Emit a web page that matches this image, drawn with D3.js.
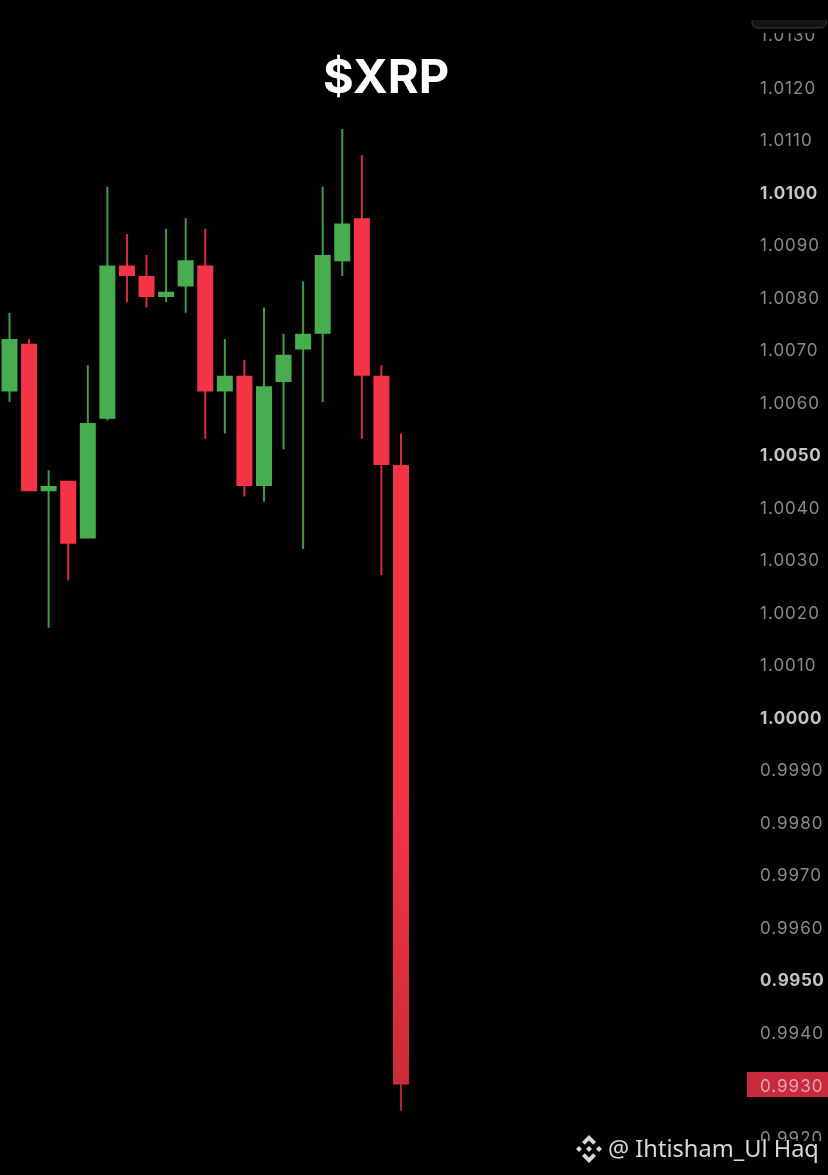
<!DOCTYPE html>
<html><head><meta charset="utf-8">
<script src="https://cdn.jsdelivr.net/npm/d3@7"></script>
<style>html,body{margin:0;padding:0;background:#000}svg{display:block;filter:blur(0.5px)}</style>
</head><body><svg id="c" width="828" height="1175"></svg>
<script>
const opens  = [1.0062,1.00711,1.0043,1.0045,1.0034,1.00568,1.0086,1.0084,1.0080,1.0082,1.0086,1.0062,1.0065,1.0044,1.00638,1.0070,1.0073,1.00868,1.0095,1.0065,1.0048];
const closes = [1.0072,1.0043,1.0044,1.0033,1.0056,1.0086,1.0084,1.0080,1.0081,1.0087,1.0062,1.0065,1.0044,1.0063,1.0069,1.0073,1.0088,1.0094,1.0065,1.0048,0.9930];
const highs  = [1.0077,1.0072,1.0047,1.0045,1.0067,1.0101,1.0092,1.0088,1.0093,1.0095,1.0093,1.0072,1.0068,1.0078,1.0073,1.0083,1.0101,1.0112,1.0107,1.0067,1.0054];
const lows   = [1.0060,1.0043,1.0017,1.0026,1.0034,1.00565,1.0079,1.0078,1.0079,1.0077,1.0053,1.0054,1.0042,1.0041,1.0051,1.0032,1.0060,1.0084,1.0053,1.0027,0.9925];
const tickVals = [1.0130,1.0120,1.0110,1.0100,1.0090,1.0080,1.0070,1.0060,1.0050,1.0040,1.0030,1.0020,1.0010,1.0000,0.9990,0.9980,0.9970,0.9960,0.9950,0.9940,0.9920];
const boldTicks = ["1.0100","1.0050","1.0000","0.9950"];
const lastPrice = 0.9930;
const titleText = "$XRP";
const creditText = "@ Ihtisham_Ul Haq";

const svg = d3.select("#c");
const y = d3.scaleLinear().domain([1,1.01]).range([717,192]);
const x = d3.scaleLinear().domain([0,20]).range([9.5,401]);
const UP="#47AD4F", DOWN="#F43447";
const font="Inter, 'Noto Sans', sans-serif";

const defs=svg.append("defs");
defs.append("clipPath").attr("id","axclip").append("rect").attr("x",700).attr("y",33).attr("width",128).attr("height",1108);
const lg=defs.append("linearGradient").attr("id","fade").attr("x1",0).attr("x2",0).attr("y1",0).attr("y2",1);
lg.append("stop").attr("offset",0).attr("stop-color","#000").attr("stop-opacity",0);
lg.append("stop").attr("offset",1).attr("stop-color","#000").attr("stop-opacity",0.22);

const data=opens.map((o,i)=>({i,o,c:closes[i],h:highs[i],l:lows[i]}));
const g=svg.append("g");
g.selectAll("line.w").data(data).join("line").attr("class","w")
 .attr("x1",d=>x(d.i)).attr("x2",d=>x(d.i))
 .attr("y1",d=>y(d.h)).attr("y2",d=>y(d.l))
 .attr("stroke",d=>d.c>=d.o?"#3F9A49":"#D92B40").attr("stroke-width",2);
g.selectAll("rect.b").data(data).join("rect").attr("class","b")
 .attr("x",d=>x(d.i)-8).attr("width",16)
 .attr("y",d=>y(Math.max(d.o,d.c)))
 .attr("height",d=>Math.abs(y(d.o)-y(d.c)))
 .attr("fill",d=>d.c>=d.o?UP:DOWN);
// dimming toward the bottom of the picture
svg.append("rect").attr("x",0).attr("y",780).attr("width",828).attr("height",395).attr("fill","url(#fade)");

const ax=d3.axisRight(y).tickValues(tickVals).tickSize(0).tickPadding(0).tickFormat(d3.format(".4f"));
const axG=svg.append("g").attr("clip-path","url(#axclip)").append("g").attr("transform","translate(760,1)").call(ax);
axG.select(".domain").remove();
const isBold=d=>boldTicks.includes(d3.format(".4f")(d));
axG.selectAll("text")
 .attr("font-family",font).attr("font-size",17).attr("text-anchor","start").attr("x",0)
 .attr("letter-spacing",d=>isBold(d)?0.6:1)
 .attr("fill",d=>isBold(d)?"#c4c4c4":"#8a8a8a")
 .attr("font-weight",d=>isBold(d)?700:400);

// top tab
svg.append("path").attr("d","M752 20 v2 q0 6 6 6 h62 q6 0 6 -6 v-2").attr("fill","#141414").attr("stroke","#3a3a3a").attr("stroke-width",1);

// last price tag
svg.append("rect").attr("x",747).attr("y",y(lastPrice)-12.5).attr("width",81).attr("height",25).attr("fill","#C92A3E");
svg.append("text").attr("x",760).attr("y",y(lastPrice)+1).attr("dy","0.36em").text(d3.format(".4f")(lastPrice))
 .attr("font-family",font).attr("font-size",17).attr("letter-spacing",1).attr("fill","#d9a9ae");

svg.append("text").attr("x",386).attr("y",93).attr("text-anchor","middle").text(titleText)
 .attr("font-family","Inter, 'Noto Sans', sans-serif").attr("font-weight",700).attr("font-size",47).attr("fill","#fff");

// credit
const ic=svg.append("g").attr("transform","translate(589,1149)").attr("fill","#d8d8d8");
ic.append("path").attr("d","M0 -14 L7 -7 L4.2 -4.2 L0 -8.4 L-4.2 -4.2 L-7 -7 Z");
ic.append("path").attr("d","M0 14 L7 7 L4.2 4.2 L0 8.4 L-4.2 4.2 L-7 7 Z");
ic.append("path").attr("d","M0 -3 L3 0 L0 3 L-3 0 Z");
ic.append("path").attr("d","M-10 -3 L-7 0 L-10 3 L-13 0 Z");
ic.append("path").attr("d","M10 -3 L13 0 L10 3 L7 0 Z");
svg.append("text").attr("x",608).attr("y",1157).text(creditText)
 .attr("font-family","'Noto Sans', sans-serif").attr("font-size",23.6).attr("fill","#d8d8d8");
</script></body></html>
